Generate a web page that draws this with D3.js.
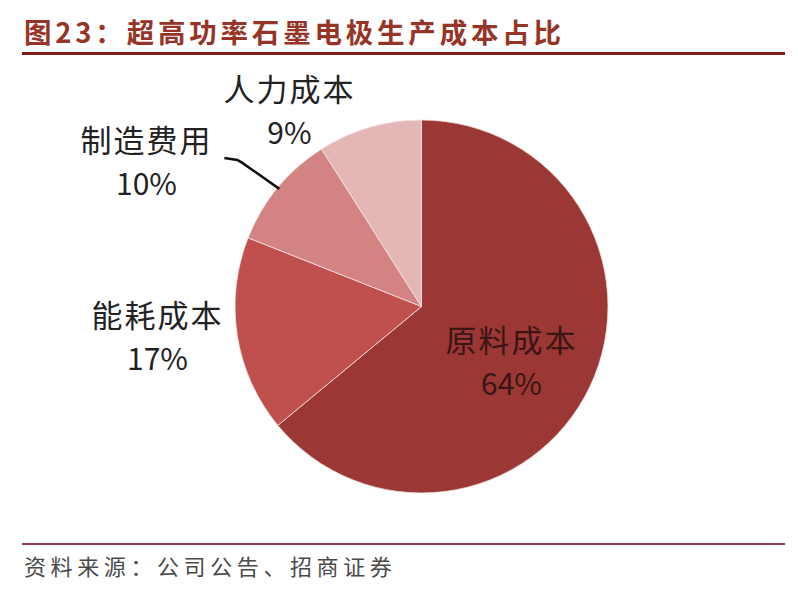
<!DOCTYPE html>
<html>
<head>
<meta charset="utf-8">
<script src="https://cdn.jsdelivr.net/npm/d3@7"></script>
<style>
  body { margin: 0; background: #fff; }
  svg { display: block; }
</style>
</head>
<body>
<script>
// Cost categories and their shares (%)
const categories = ["原料成本", "能耗成本", "制造费用", "人力成本"];
const shares = [64, 17, 10, 9];
const colors = ["#9b3836", "#c0504d", "#d38482", "#e4b6b5"];

const width = 798, height = 592;
const cx = 421.5, cy = 306.5, radius = 186.5;

const svg = d3.select("body").append("svg")
    .attr("width", width)
    .attr("height", height);

// Title and rules
svg.append("text")
    .attr("x", 24)
    .attr("y", 43)
    .attr("fill", "#963527")
    .style("font-family", "'Noto Sans CJK SC', sans-serif")
    .style("font-weight", "bold")
    .style("font-size", "27.5px")
    .style("letter-spacing", "3.8px")
    .text("图23：超高功率石墨电极生产成本占比");

svg.append("line")
    .attr("x1", 22).attr("x2", 785)
    .attr("y1", 53.5).attr("y2", 53.5)
    .attr("stroke", "#7f1a1a")
    .attr("stroke-width", 3);

svg.append("line")
    .attr("x1", 22).attr("x2", 785)
    .attr("y1", 544).attr("y2", 544)
    .attr("stroke", "#8a3f4c")
    .attr("stroke-width", 2);

svg.append("text")
    .attr("x", 24)
    .attr("y", 575)
    .attr("fill", "#4a4a4a")
    .style("font-family", "'Noto Sans CJK SC', sans-serif")
    .style("font-size", "22px")
    .style("letter-spacing", "4.6px")
    .text("资料来源：公司公告、招商证券");

// Pie
const data = categories.map((c, i) => ({ name: c, value: shares[i], color: colors[i] }));

const pie = d3.pie()
    .value(d => d.value)
    .sort(null);

const arc = d3.arc()
    .innerRadius(0)
    .outerRadius(radius);

const edgeArc = d3.arc()
    .innerRadius(radius - 2)
    .outerRadius(radius - 2);

const arcs = pie(data);

const g = svg.append("g")
    .attr("transform", "translate(" + cx + "," + cy + ")");

g.selectAll("path.slice")
    .data(arcs)
    .enter().append("path")
    .attr("class", "slice")
    .attr("d", arc)
    .attr("fill", d => d.data.color)
    .attr("stroke", "#f4e4e4")
    .attr("stroke-width", 0.8);

// Label placement (offsets from the pie centre), in the order of the categories
const labelPos = [
    { x: 90, y: 34, fill: "#3b1414" },
    { x: -264, y: 9, fill: "#222" },
    { x: -275, y: -166, fill: "#222" },
    { x: -132, y: -217, fill: "#222" }
];

const labels = g.selectAll("g.label")
    .data(arcs)
    .enter().append("g")
    .attr("class", "label")
    .attr("transform", (d, i) => "translate(" + labelPos[i].x + "," + labelPos[i].y + ")")
    .style("font-family", "'Noto Sans CJK SC', sans-serif")
    .attr("fill", (d, i) => labelPos[i].fill)
    .attr("text-anchor", "middle");

labels.append("text")
    .attr("y", 0)
    .attr("dy", "0.36em")
    .style("font-size", "31px")
    .style("letter-spacing", "2px")
    .text(d => d.data.name);

labels.append("text")
    .attr("y", 44)
    .attr("dy", "0.36em")
    .style("font-size", "30px")
    .text(d => d.data.value + "%");

// Leader line for 制造费用
const lead = arcs[2];
const end = edgeArc.centroid(lead);
g.append("path")
    .attr("d", d3.line().curve(d3.curveLinear)([
        [end[0] - 55, end[1] - 31],
        [end[0] - 42, end[1] - 29],
        [end[0] - 37, end[1] - 26],
        [end[0], end[1]]
    ]))
    .attr("fill", "none")
    .attr("stroke", "#111")
    .attr("stroke-width", 2.5);
</script>
</body>
</html>
